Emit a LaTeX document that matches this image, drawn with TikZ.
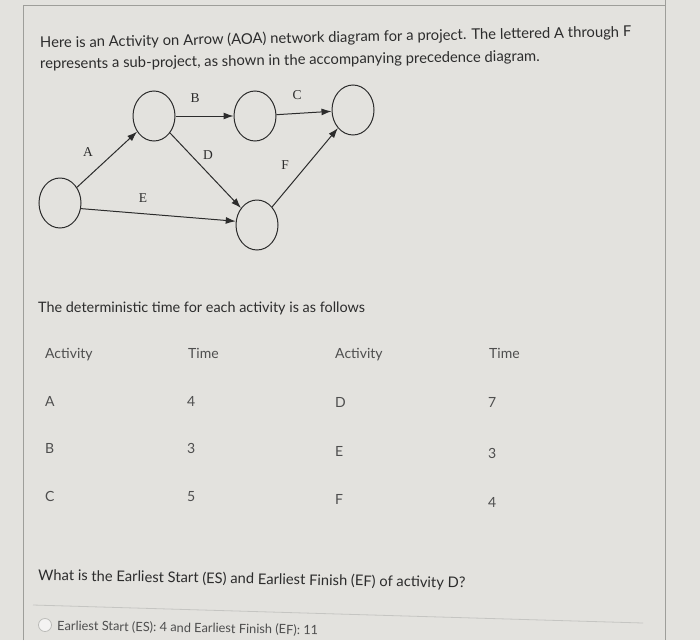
\documentclass[tikz,border=0pt]{standalone}
\usepackage{fontspec}
\setmainfont{Lato}
\newfontfamily\arrowfont{Liberation Serif}
\usetikzlibrary{arrows.meta,shapes.geometric}
\definecolor{paper}{HTML}{E3E2DE}
\definecolor{ink}{HTML}{2C2C2C}
\definecolor{soft}{HTML}{4E4E4E}
\definecolor{rule}{HTML}{9E9E9A}

\begin{document}
\begin{tikzpicture}
[x=1pt,y=-1pt,
event/.style={ellipse,draw=ink,line width=1pt,minimum width=42pt,minimum height=50pt,inner sep=0pt},
act/.style={draw=ink,line width=1pt,-{Latex[length=10pt,width=7pt]}},
lab/.style={text=ink,inner sep=0pt,font=\arrowfont\fontsize{13.5}{14}\selectfont},
line/.style={anchor=base west,text=ink,inner sep=0pt,font=\fontsize{14.8}{16}\selectfont},
cell/.style={anchor=base west,text=soft,inner sep=0pt,font=\fontsize{14}{16}\selectfont}]
\fill[paper] (0,0) rectangle (700,640); \useasboundingbox (0,0) rectangle (700,640);
\draw[rule,line width=1pt] (23,640)--(23,5)--(665,5); \draw[rule,line width=1pt] (665,0)--(665,640);
\draw[rule!60,line width=0.8pt] (33,605)--(643,623);
\node[line,rotate=1.1] (intro1) at (40,48) {Here is an Activity on Arrow (AOA) network diagram for a project. The lettered A through F};
\node[line,rotate=0.9] (intro2) at (40,69) {represents a sub-project, as shown in the accompanying precedence diagram.};
\node[event] (n1) at (60,203) {}; \node[event] (n2) at (154,116) {}; \node[event] (n3) at (255,116) {};
\node[event] (n4) at (353,110) {}; \node[event] (n5) at (257,225) {};
\draw[act] (n1)--(n2); \draw[act] (n2)--(n3); \draw[act] (n3)--(n4);
\draw[act] (n2)--(n5); \draw[act] (n1.-15)--(n5.170); \draw[act] (n5)--(n4);
\node[lab] (la) at (88,152) {A}; \node[lab] (lb) at (195,98) {B}; \node[lab] (lc) at (297,95) {C};
\node[lab] (ld) at (208,155) {D}; \node[lab] (le) at (143,198) {E}; \node[lab] (lf) at (285,165) {F};
\node[line,font=\fontsize{14.4}{16}\selectfont] (intro3) at (38,312) {The deterministic time for each activity is as follows};
\node[cell] (h1) at (45,358) {Activity}; \node[cell] (h2) at (188,358) {Time}; \node[cell] (h3) at (335,358) {Activity}; \node[cell] (h4) at (489,358) {Time};
\node[cell] (a1) at (45,406) {A}; \node[cell] (a2) at (187,406) {4}; \node[cell] (a3) at (335,407) {D}; \node[cell] (a4) at (488,407) {7};
\node[cell] (b1) at (45,453) {B}; \node[cell] (b2) at (187,453) {3}; \node[cell] (b3) at (335,456) {E}; \node[cell] (b4) at (488,458) {3};
\node[cell] (c1) at (45,501) {C}; \node[cell] (c2) at (187,501) {5}; \node[cell] (c3) at (335,504) {F}; \node[cell] (c4) at (488,507) {4};
\node[line,rotate=-1.07,font=\fontsize{14.7}{16}\selectfont] (ask) at (38,580) {What is the Earliest Start (ES) and Earliest Finish (EF) of activity D?};
\node[circle,draw=rule!70,fill=white!60!paper,line width=0.8pt,minimum size=13pt,inner sep=0pt] (radio) at (45,625) {};
\node[line,rotate=-1,text=soft,font=\fontsize{12.8}{14}\selectfont] (pick) at (57,630) {Earliest Start (ES): 4 and Earliest Finish (EF): 11};
\end{tikzpicture}
\end{document}
